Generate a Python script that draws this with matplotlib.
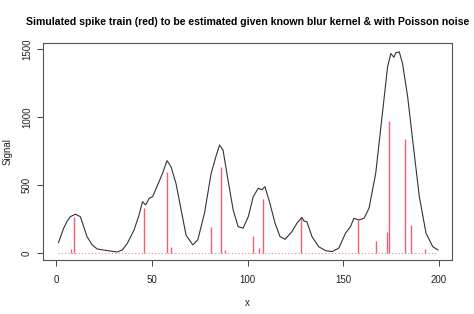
import matplotlib.pyplot as plt

plt.rcParams['font.family'] = ['Liberation Sans', 'DejaVu Sans']

# blurred signal with noise (black line)
curve_x = [1.2, 3.9, 5.6, 7.4, 10, 12.6, 14.4, 16.1, 18.8, 21.4, 26.7, 31.9, 34.6, 37.2,
           40.7, 43.3, 45.1, 46.8, 48.6, 50.4, 53, 55.6, 57.9, 60, 62.6, 65.3, 67.9, 71.4,
           74, 77.5, 81, 83.7, 85.4, 87.2, 89.8, 92.5, 95.1, 97.7, 100.4, 103, 105.6, 107.5, 109.1,
           111.7, 114.4, 117, 119.6, 123.2, 125.8, 128.4, 129.5, 131, 133.7, 137.2, 140.7, 144.2,
           147.7, 151.2, 153.8, 155.6, 158.3, 160.9, 163.5, 167, 170.5, 173.2, 174.9, 176.5, 177.5,
           179.3, 181, 183.7, 186.3, 189.8, 193.3, 196.8, 199.5]
curve_y = [76, 182, 230, 267, 285, 267, 193, 120, 59, 29, 17, 7, 22, 71,
           169, 279, 377, 353, 402, 414, 500, 586, 679, 635, 512, 316, 130, 59,
           96, 292, 586, 720, 794, 757, 537, 316, 193, 182, 267, 414, 476, 465, 488,
           365, 218, 120, 100, 157, 218, 262, 235, 230, 120, 46, 17, 10,
           35, 145, 193, 255, 243, 255, 329, 586, 1027, 1370, 1468, 1440, 1473,
           1480, 1395, 1149, 831, 414, 145, 46, 22]

# true spike train (red)
spike_x = [8, 9.3, 46, 58, 60, 81, 86, 88, 103, 106, 108, 128, 157.5, 167, 173, 174, 182.5, 185.5, 193]
spike_y = [30, 267, 333, 598, 46, 193, 635, 22, 125, 39, 395, 262, 243, 90, 157, 973, 840, 206, 29]

fig = plt.figure(figsize=(4.74, 3.14), dpi=100)
ax = fig.add_axes([0.0907, 0.172, 0.863, 0.691])

ax.plot([1, 199], [0, 0], color='#f08080', lw=0.8, ls=(0, (1, 2)))
ax.vlines(spike_x, 0, spike_y, color='#f06070', lw=1.0)
ax.plot(curve_x, curve_y, color='#333333', lw=0.8)

ax.set_xlim(-6.9, 206.9)
ax.set_ylim(-52, 1545)
ax.set_xticks([0, 50, 100, 150, 200])
ax.set_yticks([0, 500, 1000, 1500])
for lab in ax.get_yticklabels():
    lab.set_rotation(90)
    lab.set_va('center')
ax.tick_params(labelsize=7, length=4, width=0.7, color='#444444', labelcolor='#222222')
ax.tick_params(axis='x', pad=7)
ax.tick_params(axis='y', pad=4)
for s in ax.spines.values():
    s.set_color('#555555')
    s.set_linewidth(0.8)

ax.set_xlabel('x', fontsize=7, color='#222222')
ax.set_ylabel('Signal', fontsize=7, color='#222222')
ax.xaxis.set_label_coords(0.5, -0.175)
ax.yaxis.set_label_coords(-0.075, 0.5)
ax.set_title('Simulated spike train (red) to be estimated given known blur kernel & with Poisson noise',
             fontsize=7.6, fontweight='bold', pad=13)

fig.savefig('out.png', dpi=100)
